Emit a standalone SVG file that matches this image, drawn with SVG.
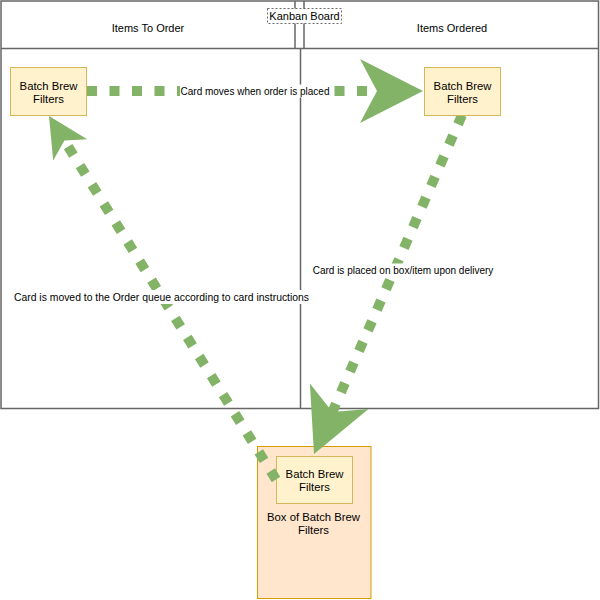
<svg xmlns="http://www.w3.org/2000/svg" width="600" height="600" viewBox="0 0 600 600">
<style>
  .lane { fill: none; stroke: #666666; stroke-width: 1.5; }
  .hdr { font-family: "Liberation Sans", Arial, sans-serif; font-size: 11px; fill: #000; text-anchor: middle; }
  .card { fill: #fff2cc; stroke: #d6b656; stroke-width: 1; }
  .box { fill: #ffe6cc; stroke: #d79b00; stroke-width: 1; }
  .lbl { font-family: "Liberation Sans", Arial, sans-serif; font-size: 11.3px; fill: #000; text-anchor: middle; }
  .elbl { font-family: "Liberation Sans", Arial, sans-serif; font-size: 10px; fill: #000; text-anchor: middle; }
  .edge { fill: none; stroke: #82b366; stroke-width: 10; stroke-dasharray: 10 12.5; }
  .head { fill: #82b366; stroke: none; }
  .bg { fill: #ffffff; }
</style>
<rect width="600" height="600" fill="#ffffff"/>
<g id="board">
  <rect class="lane" x="1" y="1" width="597.5" height="407.5" fill="#ffffff"/>
  <line class="lane" x1="1" y1="48.5" x2="598.5" y2="48.5"/>
  <line class="lane" x1="295" y1="1" x2="295" y2="48.5"/>
  <line class="lane" x1="304" y1="1" x2="304" y2="48.5"/>
  <line class="lane" x1="300.5" y1="48.5" x2="300.5" y2="408.5"/>
  <text class="hdr" x="148" y="32">Items To Order</text>
  <text class="hdr" x="452" y="32">Items Ordered</text>
  <rect x="267.5" y="8.5" width="74" height="15" fill="#ffffff" stroke="#444444" stroke-width="0.8" stroke-dasharray="2 2"/>
  <text class="hdr" x="304.5" y="19.5">Kanban Board</text>
</g>
<g id="box">
  <rect class="box" x="257.5" y="446.5" width="113.5" height="152"/>
  <text class="lbl" x="313.5" y="521">Box of Batch Brew</text>
  <text class="lbl" x="313.5" y="534">Filters</text>
</g>
<g id="card-box">
  <rect class="card" x="276.5" y="456.5" width="76" height="47"/>
  <text class="lbl" x="314.5" y="477.5">Batch Brew</text>
  <text class="lbl" x="314.5" y="491">Filters</text>
</g>
<g id="connectors">
  <line class="edge" x1="87" y1="91" x2="377" y2="91"/>
  <polygon class="head" points="423,91 360,59 377,91 360,123"/>
  <line class="edge" x1="462" y1="115" x2="332.4" y2="411.9"/>
  <polygon class="head" points="314,454 368.5,409.1 332.4,411.9 309.9,383.5"/>
  <line class="edge" x1="276" y1="479.5" x2="64.4" y2="140.6"/>
  <polygon class="head" points="49,116 87.2,139.3 64.4,140.6 53.2,160.5"/>
  <rect class="bg" x="180" y="84.5" width="150" height="13"/>
  <text class="elbl" x="255" y="94.5">Card moves when order is placed</text>
  <rect class="bg" x="12" y="290" width="299" height="14"/>
  <text class="elbl" x="161.5" y="301" style="font-size:10.4px">Card is moved to the Order queue according to card instructions</text>
  <rect class="bg" x="312" y="263.5" width="182" height="14"/>
  <text class="elbl" x="403" y="274">Card is placed on box/item upon delivery</text>
</g>
<g id="card-left">
  <rect class="card" x="10.5" y="67.5" width="76" height="48"/>
  <text class="lbl" x="48.5" y="89.5">Batch Brew</text>
  <text class="lbl" x="48.5" y="102.5">Filters</text>
</g>
<g id="card-right">
  <rect class="card" x="424.5" y="67.5" width="76" height="48"/>
  <text class="lbl" x="462.5" y="89.5">Batch Brew</text>
  <text class="lbl" x="462.5" y="102.5">Filters</text>
</g>
</svg>
